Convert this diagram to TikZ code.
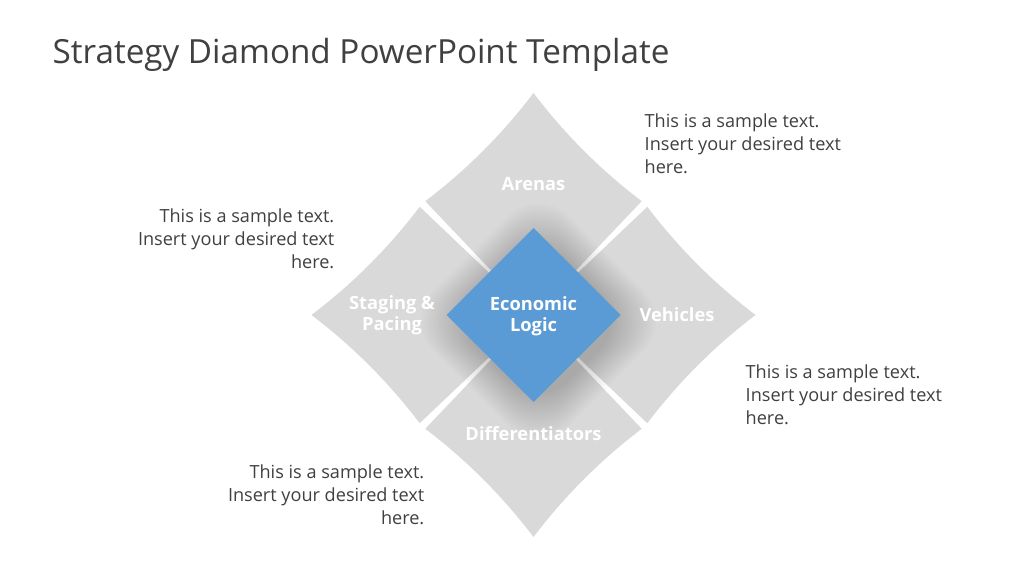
\documentclass[tikz,border=0pt]{standalone}
\usepackage{fontspec}
\setmainfont{Open Sans}
\definecolor{quad}{RGB}{217,217,217}
\definecolor{core}{RGB}{91,155,213}
\definecolor{txt}{RGB}{64,64,64}
\tikzset{
  body/.style={inner sep=0pt, text=txt, font=\fontsize{5.15}{6.55}\selectfont},
  lab/.style={inner sep=0pt, text=white, align=center, font=\bfseries\fontsize{5.2}{5.9}\selectfont},
  qshape/.pic={\fill[quad] (0,0) -- (-108.2,-113.8)
      .. controls (-67.2,-144.9) and (-31.1,-181.0) .. (0,-222)
      .. controls (31.1,-181.0) and (67.2,-144.9) .. (108.2,-113.8) -- cycle;}
}
\begin{document}
\begin{tikzpicture}[x=0.01cm,y=-0.01cm]
\useasboundingbox (0,0) rectangle (1024,576);
\fill[white] (0,0) rectangle (1024,576);
\node[anchor=base west, inner sep=0pt, text=txt, font=\fontsize{9.45}{11}\selectfont] (title) at (52,64) {Strategy Diamond PowerPoint Template};
\coordinate (c) at (533.5,315);
\pic at (c) {qshape};
\pic[rotate=90] at (c) {qshape};
\pic[rotate=180] at (c) {qshape};
\pic[rotate=270] at (c) {qshape};
\foreach \i in {1,...,16}{
  \pgfmathsetmacro\r{87+3*\i}
  \fill[black, opacity=0.013, rounded corners=12] (538.5,321-\r) -- ++(\r,\r) -- ++(-\r,\r) -- ++(-\r,-\r) -- cycle;
}
\fill[core] (533.5,228) -- (620.5,315) -- (533.5,402) -- (446.5,315) -- cycle;
\node[lab] (arenas) at (533.5,184) {Arenas};
\node[lab] (staging) at (392,315) {Staging \&\\Pacing};
\node[lab] (vehicles) at (677,315) {Vehicles};
\node[lab] (diff) at (533.5,434) {Differentiators};
\node[lab] (econ) at (533.5,316) {Economic\\Logic};
\node[body, anchor=west, align=left] (t1) at (644,144) {This is a sample text.\\Insert your desired text\\here.};
\node[body, anchor=east, align=right] (t2) at (335,239) {This is a sample text.\\Insert your desired text\\here.};
\node[body, anchor=west, align=left] (t3) at (745,395) {This is a sample text.\\Insert your desired text\\here.};
\node[body, anchor=east, align=right] (t4) at (425,495) {This is a sample text.\\Insert your desired text\\here.};
\end{tikzpicture}
\end{document}
